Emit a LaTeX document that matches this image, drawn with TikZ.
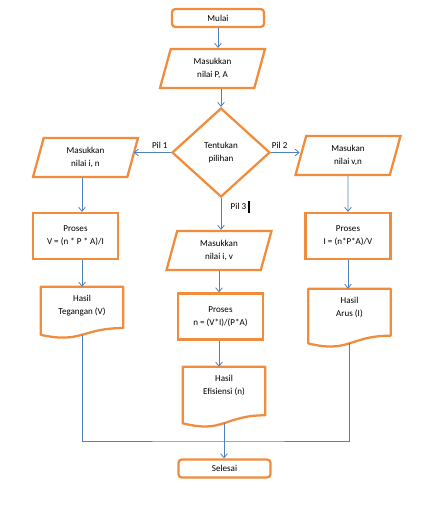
\documentclass[tikz,border=0pt]{standalone}
\usepackage{fontspec}
\setmainfont{Carlito}
\usepackage{xcolor}
\usetikzlibrary{shapes.geometric,arrows.meta,calc}

\definecolor{garisoranye}{RGB}{240,140,60}
\definecolor{panahbiru}{RGB}{79,129,189}

\tikzset{
	dasar/.style={draw=garisoranye, line width=1.7pt, align=center, inner sep=0pt},
	terminal/.style={dasar, rectangle, rounded corners=2.5pt, minimum width=69pt, minimum height=13.5pt},
	masukan/.style={dasar, trapezium, trapezium left angle=62, trapezium right angle=118, trapezium stretches body, minimum width=78.75pt, minimum height=29.25pt},
	proses/.style={dasar, rectangle, minimum width=63.75pt, minimum height=34.5pt},
	keputusan/.style={dasar, diamond, minimum width=73.5pt, minimum height=66.75pt},
	dokumen/.style={rectangle, inner sep=0pt, minimum width=61.5pt},
	teks/.style={align=center, inner sep=0pt},
	label pilihan/.style={inner sep=0pt},
	panah/.style={draw=panahbiru, line width=0.6pt, -{Straight Barb[length=3pt,width=5pt]}},
	garis/.style={draw=panahbiru, line width=0.6pt},
}

% bentuk dokumen (sisi bawah bergelombang)
\newcommand{\gambardokumen}[1]{%
	\draw[draw=garisoranye, line width=1.7pt, line join=round]
	(#1.north west) -- (#1.north east) -- ($(#1.north east)!0.802!(#1.south east)$)
	.. controls ($(#1.north)!0.802!(#1.south)$) and ($(#1.north)!1.107!(#1.south)$)
	.. ($(#1.north west)!0.934!(#1.south west)$) -- cycle;
	\coordinate (#1b) at ($(#1.north)!0.933!(#1.south)$);
}

\begin{document}
\begin{tikzpicture}[x=0.75pt, y=-0.75pt, font=\fontsize{6.8}{9.5}\selectfont]
	\useasboundingbox (0,0) rectangle (447,517);
	
	% simbol-simbol flowchart
	\node[terminal] (mulai) at (218,18) {Mulai};
	\node[masukan] (inPA) at (212.5,68.5) {Masukkan\\nilai P, A};
	\node[keputusan] (pilihan) at (221,152.5) {Tentukan\\pilihan};
	
	\node[masukan] (inIN) at (85.5,157.5) {Masukkan\\nilai i, n};
	\node[masukan] (inIV) at (219,250.5) {Masukkan\\nilai i, v};
	\node[masukan] (inVN) at (348,155.5) {Masukan\\nilai v,n};
	
	\node[proses] (prosesV) at (75.5,236) {Proses\\V = (n * P * A)/I};
	\node[proses] (prosesN) at (220.5,316.5) {Proses\\n = (V*I)/(P*A)};
	\node[proses] (prosesI) at (348,236) {Proses\\I = (n*P*A)/V};
	
	\node[dokumen, minimum height=38.25pt] (docV) at (82,312.5) {};
	\node[dokumen, minimum height=45pt] (docN) at (224,397) {};
	\node[dokumen, minimum height=43.5pt] (docI) at (349.5,318) {};
	\gambardokumen{docV}
	\gambardokumen{docN}
	\gambardokumen{docI}
	\node[teks] (docVteks) at ($(docV.north)+(0,19)$) {Hasil\\Tegangan (V)};
	\node[teks] (docNteks) at ($(docN.north)+(0,19)$) {Hasil\\Efisiensi (n)};
	\node[teks] (docIteks) at ($(docI.north)+(0,19)$) {Hasil\\Arus (I)};
	
	\node[terminal] (selesai) at (224.5,468.5) {Selesai};
	\coordinate (gabung) at (221,441);
	
	% panah
	\draw[panah] (mulai) -- (mulai.south |- inPA.north);
	\draw[panah] (inPA.south -| pilihan.north) -- (pilihan.north);
	\draw[panah] (pilihan.west) -- (pilihan.west -| inIN.east) node[label pilihan, pos=0.3, above=3pt] (pil1) {Pil 1};
	\draw[panah] (pilihan.east) -- (pilihan.east -| inVN.west) node[label pilihan, pos=0.3, above=3pt] (pil2) {Pil 2};
	\draw[panah] (pilihan.south) -- (pilihan.south |- inIV.north) node[label pilihan, pos=0.27, right=7pt] (pil3) {Pil 3};
	\draw[line width=1.2pt] ([xshift=2pt,yshift=1.5pt]pil3.north east) -- ([xshift=2pt,yshift=-2pt]pil3.south east);
	
	\draw[panah] (inIN.south -| docV.north) -- (prosesV.north -| docV.north);
	\draw[panah] (prosesV.south -| docV.north) -- (docV.north);
	\draw[panah] (inIV.south) -- (inIV.south |- prosesN.north);
	\draw[panah] (prosesN.south -| inIV.south) -- (inIV.south |- docN.north);
	\draw[panah] (inVN.south) -- (prosesI.north);
	\draw[panah] (prosesI.south) -- (prosesI.south |- docI.north);
	
	\draw[garis] (docVb) |- (gabung) -| (docIb);
	\draw[panah] (docNb) -- (docNb |- selesai.north);
\end{tikzpicture}
\end{document}
